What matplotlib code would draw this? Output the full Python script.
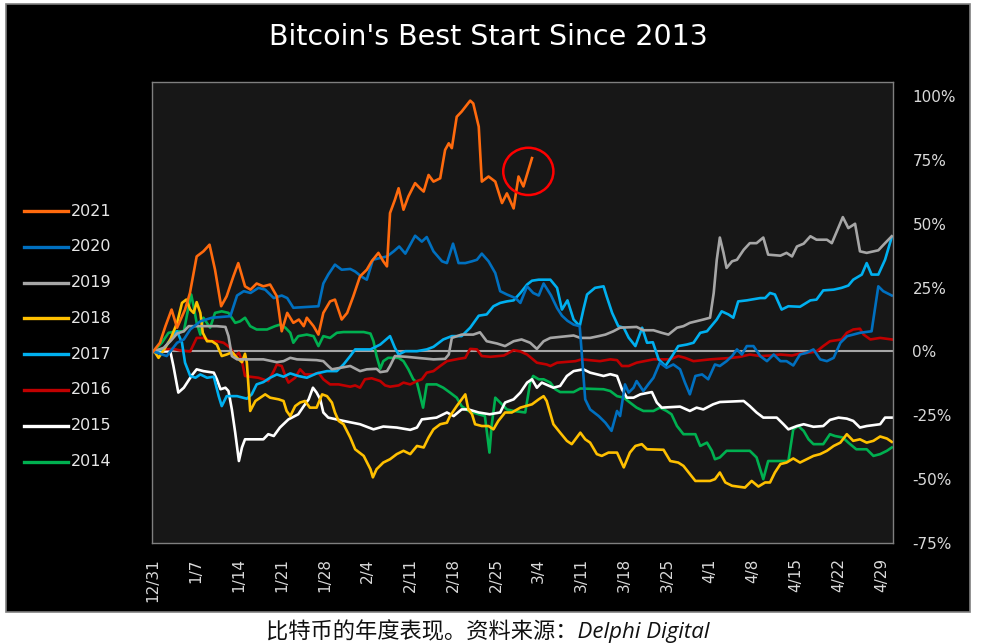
import matplotlib
matplotlib.use("Agg")
import matplotlib.pyplot as plt
from matplotlib.lines import Line2D
from matplotlib.patches import Rectangle, Ellipse

# days since 12/31 and % change from start
days_2021 = [0, 1.1, 2.0, 3.0, 3.9, 5.2, 6.0, 7.1, 8.2, 9.2, 10.1, 11.1, 12.0, 13.1, 13.9, 15.0, 15.9, 16.9, 18.0, 19.1,
             20.2, 21.0, 21.9, 22.9, 23.8, 24.6, 25.1, 26.2, 27.0, 27.8, 28.9, 29.7, 30.8, 31.7, 32.7, 33.8, 34.9, 35.7,
             36.8, 37.6, 38.2, 38.7, 39.5, 40.1, 40.9, 41.7, 42.8, 43.6, 44.2, 45.0, 45.8, 46.9, 47.7, 48.3, 48.8, 49.6,
             50.4, 51.8, 52.3, 53.2, 53.7, 54.8, 55.9, 57.0, 57.8, 58.9, 59.7, 60.5, 61.9]
pct_2021 = [0, 3.4, 9.9, 16.4, 9.3, 16.4, 22.9, 37.2, 39.2, 41.8, 32.0, 17.7, 21.6, 29.4, 34.6, 25.5, 24.2, 26.6, 25.5, 26.2,
            21.6, 7.9, 15.1, 11.2, 12.5, 9.9, 13.2, 9.9, 6.6, 15.1, 19.6, 20.3, 12.5, 15.1, 21.6, 29.4, 32.0, 35.3,
            38.6, 35.3, 33.3, 54.2, 59.4, 63.9, 55.5, 60.7, 65.9, 63.9, 62.6, 69.1, 66.5, 67.8, 78.9, 81.5, 79.6, 91.9,
            93.9, 98.2, 97.1, 88.0, 66.5, 68.5, 66.5, 58.1, 61.9, 56.0, 68.5, 64.6, 75.7]

days_2020 = [0, 2.2, 3.9, 5.0, 6.05, 7.7, 9.6, 12.6, 13.7, 14.8, 15.9, 17.2, 18.3, 19.7, 21.0, 21.9, 22.9, 27.0, 27.8,
             28.6, 29.7, 30.8, 32.2, 33.0, 34.1, 34.9, 35.9, 37.1, 38.2, 39.3, 40.2, 41.2, 42.8, 43.9, 44.7, 45.8, 47.2,
             48.0, 49.0, 49.9, 51.0, 52.1, 52.9, 53.7, 54.8, 55.9, 56.7, 57.8, 59.2, 60.0, 61.1, 62.1, 63.0, 63.8, 65.0,
             66.0, 66.8, 67.7, 68.7, 69.7, 70.6, 71.4, 72.8, 73.9, 74.9, 75.8, 76.3, 77.1, 77.7, 78.5, 79.0, 80.1, 80.9,
             81.75, 82.8, 83.9, 85.0, 86.1, 86.9, 87.7, 88.6, 89.7, 90.7, 91.8, 92.6, 93.7, 94.6, 95.4, 96.2, 97.0,
             98.1, 99.2, 100.3, 101.4, 102.5, 103.5, 104.6, 105.7, 106.8, 107.9, 109.0, 110.1, 111.2, 112.3, 113.4,
             114.4, 115.5, 117.4, 118.5, 119.3, 120.7]
pct_2020 = [0, -1.8, 3.4, 4.7, 8.6, 11.8, 13.2, 13.8, 21.9, 23.6, 22.9, 24.9, 24.2, 20.9, 21.9, 20.9, 17.1, 17.7, 26.6,
            30.1, 34.0, 32.0, 32.3, 31.3, 29.2, 28.1, 35.9, 36.6, 37.2, 39.2, 41.1, 38.3, 45.3, 43.0, 44.8, 39.2, 35.3,
            34.6, 42.2, 34.6, 34.6, 35.3, 35.9, 38.3, 35.3, 30.7, 23.6, 22.3, 20.9, 19.0, 25.5, 22.9, 21.9, 26.6, 22.0,
            17.0, 14.0, 12.0, 10.5, 9.9, -18.75, -22.7, -25.3, -27.9, -31.1, -23.3, -25.3, -12.9, -16.1, -14.2, -11.6,
            -15.5, -12.9, -10.3, -4.4, -6.4, -5.1, -7.0, -12.2, -16.8, -9.6, -9.0, -10.9, -5.1, -5.7, -3.8, -1.8, 0.8,
            -1.2, 2.1, 2.1, -1.8, -3.8, -1.2, -3.8, -3.8, -5.5, -1.2, -0.5, 0.8, -3.1, -3.8, -2.5, 3.4, 6.0, 6.6, 7.3,
            7.9, 25.5, 23.6, 21.9]

days_2019 = [0, 1.7, 2.8, 3.9, 5.0, 5.8, 10.4, 11.8, 12.3, 12.85, 13.7, 18.0, 20.2, 21.3, 22.4, 23.5, 26.7, 27.8, 28.6,
             29.2, 30.6, 32.2, 33.8, 34.9, 36.5, 37.1, 38.2, 38.7, 39.5, 41.4, 43.1, 45.8, 47.7, 48.3, 48.8, 50.4, 52.3,
             53.4, 54.5, 56.2, 57.5, 58.9, 60.2, 61.6, 62.7, 63.8, 64.9, 66.5, 68.7, 69.8, 71.4, 72.8, 73.9, 75.2, 76.3,
             79.0, 80.1, 81.75, 83.1, 84.2, 85.6, 86.65, 87.7, 89.9, 91.0, 91.6, 92.1, 92.6, 93.2, 93.7, 94.6, 95.4,
             96.5, 97.5, 98.6, 99.7, 100.5, 102.5, 103.5, 104.4, 105.2, 106.3, 107.4, 108.4, 110.1, 110.9, 111.7, 112.7,
             113.6, 114.7, 115.5, 116.6, 118.5, 119.6, 120.7]
pct_2019 = [0, 1.4, 4.0, 7.0, 7.9, 9.9, 9.9, 9.6, 6.0, -1.8, -3.1, -3.1, -4.2, -3.8, -2.5, -3.1, -3.4, -3.8, -5.7,
            -7.0, -6.4, -5.7, -7.7, -7.0, -6.8, -8.1, -7.7, -5.7, -1.8, -2.1, -2.5, -3.1, -2.9, -1.2, 5.3, 6.6, 6.6,
            7.5, 4.0, 3.1, 2.1, 4.0, 4.7, 3.4, 1.0, 4.0, 5.3, 5.7, 6.25, 5.3, 5.3, 6.0, 6.6, 7.9, 9.3,
            9.6, 8.3, 8.3, 7.3, 6.6, 9.3, 9.9, 11.2, 12.5, 13.2, 22.9, 35.9, 44.6, 38.6, 32.7, 35.3, 35.9,
            39.8, 42.4, 42.4, 44.6, 37.9, 37.5, 38.6, 37.2, 41.1, 42.2, 45.1, 43.75, 43.75, 42.4, 46.9, 52.6,
            48.3, 50.0, 39.2, 38.6, 39.6, 42.4, 45.1]

days_2018 = [0, 0.33, 0.87, 1.7, 2.8, 3.9, 4.7, 5.4, 6.05, 6.6, 7.1, 7.7, 8.1, 8.8, 9.6, 10.4, 11.2, 12.0, 12.9, 13.7,
             14.5, 15.0, 15.3, 15.6, 15.85, 16.7, 17.5, 18.3, 19.1, 20.5, 21.3, 21.8, 22.4, 23.2, 24.0, 24.8, 25.6,
             26.7, 27.6, 28.4, 29.2, 29.7, 30.3, 31.1, 32.2, 33.0, 34.4, 35.5, 35.9, 36.5, 37.6, 38.7, 39.8, 40.9,
             42.0, 43.1, 44.2, 45.0, 45.8, 46.9, 48.0, 48.5, 49.6, 50.4, 51.0, 51.5, 52.1, 52.6, 53.7, 54.8, 55.6,
             56.4, 57.5, 58.6, 60.0, 61.9, 63.0, 63.8, 64.3, 65.4, 66.5, 67.6, 68.4, 69.2, 69.8, 70.6, 71.4, 72.5,
             73.3, 74.4, 75.8, 76.9, 77.9, 78.8, 79.85, 80.7, 83.4, 84.5, 85.8, 86.65, 87.5, 88.6, 91.0, 91.8, 92.6,
             93.5, 94.6, 96.7, 97.8, 98.9, 100.0, 100.8, 101.6, 102.5, 103.5, 104.6, 105.7, 106.8, 107.9, 109.0,
             110.1, 111.2, 112.3, 113.35, 114.4, 115.5, 116.6, 117.7, 118.8, 119.9, 120.7]
pct_2018 = [0, -0.5, -2.5, 0.5, 4.7, 11.2, 19.0, 20.3, 16.4, 15.1, 19.3, 15.1, 7.3, 4.0, 4.0, 2.7, -1.8, -1.2, -0.3, -2.5,
            -4.2, -0.9, -4.4, -14.8, -23.3, -19.4, -18.1, -16.8, -18.1, -18.75, -19.4, -23.3, -25.3, -21.4, -20.0, -19.4,
            -22.0, -22.0, -16.8, -17.5, -20.0, -23.9, -27.2, -28.5, -33.7, -38.3, -40.9, -46.1, -49.3, -46.1, -43.5,
            -42.2, -40.2, -38.9, -40.2, -37.0, -37.6, -33.7, -30.5, -28.5, -27.9, -25.3, -21.4, -18.75, -16.8, -22.7,
            -24.6, -28.5, -29.2, -29.2, -30.5, -27.2, -23.9, -23.9, -22.0, -20.7, -18.75, -17.5, -19.4, -28.5, -31.8,
            -35.0, -36.3, -33.7, -31.8, -34.4, -35.7, -40.2, -40.9, -39.6, -39.6, -45.4, -39.6, -37.0, -36.3, -38.3,
            -38.5, -42.9, -43.5, -44.8, -47.4, -50.7, -50.7, -50.0, -47.4, -51.3, -52.6, -53.3, -50.7, -52.9, -51.3,
            -51.3, -47.4, -44.1, -43.5, -41.9, -43.5, -42.2, -40.9, -40.2, -38.9, -37.0, -35.7, -32.4, -35.0, -34.4,
            -35.7, -35.0, -33.3, -34.1, -35.4]

days_2017 = [0, 1.7, 2.8, 3.9, 4.7, 5.2, 6.05, 6.9, 7.7, 8.8, 9.9, 10.7, 11.2, 12.0, 13.7, 15.3, 16.1, 16.9, 18.0, 19.1,
             20.2, 21.3, 22.4, 23.7, 25.1, 26.7, 28.4, 30.0, 31.1, 32.2, 33.0, 35.5, 37.1, 38.7, 39.5, 40.1, 41.2, 43.1,
             44.7, 45.8, 47.4, 48.8, 50.4, 51.8, 53.2, 54.5, 55.6, 56.7, 57.8, 58.9, 60.0, 61.1, 61.9, 63.0, 64.9, 66.0,
             66.8, 67.7, 68.7, 69.7, 70.3, 70.9, 72.2, 73.6, 74.1, 75.0, 76.0, 76.9, 77.7, 78.8, 79.9, 80.7, 81.65,
             82.6, 83.7, 84.8, 85.8, 87.2, 88.3, 89.4, 90.5, 92.1, 92.9, 94.0, 94.8, 95.6, 97.0, 99.2, 100.0, 100.8,
             101.6, 102.7, 103.8, 105.7, 107.4, 108.4, 109.5, 111.2, 112.5, 113.6, 114.4, 115.8, 116.6, 117.4, 118.5,
             119.6, 120.7]
pct_2017 = [0, 0.8, 4.7, 7.9, 3.4, -4.4, -9.6, -10.3, -9.0, -10.3, -9.9, -17.5, -21.4, -17.5, -17.5, -18.5, -16.8, -12.9,
            -12.0, -10.3, -9.0, -9.9, -8.6, -9.6, -10.3, -8.6, -7.7, -7.7, -5.1, -1.8, 0.8, 0.8, 2.7, 6.0, 1.4, -1.2,
            0.1, 0.1, 0.8, 1.8, 4.7, 6.0, 6.0, 9.3, 14.0, 14.5, 17.7, 19.0, 19.6, 20.0, 22.9, 26.2, 27.7, 28.1, 28.1,
            24.9, 16.4, 20.0, 12.5, 9.9, 16.4, 22.3, 24.9, 25.5, 21.6, 15.1, 9.9, 9.3, 5.4, 2.1, 9.3, 3.4, 3.6, -3.1,
            -5.7, -1.8, 2.1, 2.7, 3.4, 7.3, 7.9, 12.5, 15.7, 14.5, 13.2, 19.6, 20.0, 20.9, 20.9, 22.9, 22.3, 16.4,
            17.7, 17.5, 20.0, 20.3, 23.9, 24.2, 24.9, 25.8, 28.1, 30.1, 34.6, 30.1, 30.1, 35.9, 44.8]

days_2016 = [0, 1.1, 3.3, 4.4, 6.05, 7.1, 8.2, 9.3, 10.4, 11.5, 12.6, 13.4, 14.0, 14.5, 15.0, 15.85, 17.2, 18.8, 19.7,
             20.2, 21.0, 21.6, 22.1, 23.2, 24.0, 24.8, 26.2, 27.0, 27.8, 28.9, 30.3, 32.2, 33.0, 33.8, 34.6, 35.7, 37.1,
             37.9, 38.7, 40.1, 40.9, 42.0, 43.1, 43.9, 44.7, 45.8, 46.9, 48.0, 49.9, 51.0, 51.8, 52.9, 53.7, 55.1, 57.3,
             58.9, 60.0, 61.1, 62.7, 64.3, 64.9, 66.0, 69.0, 70.0, 73.0, 74.7, 75.8, 76.6, 77.7, 79.0, 81.75, 84.5,
             85.8, 86.9, 88.3, 91.0, 94.6, 95.9, 97.5, 99.2, 100.8, 102.5, 104.4, 105.7, 107.1, 108.4, 109.5, 110.6,
             112.5, 113.35, 114.4, 115.5, 116.1, 117.2, 118.8, 120.7]
pct_2016 = [0, 0.8, 1.0, 0.4, 0, 5.3, 5.3, 4.0, 4.0, 3.4, 1.4, -1.8, -0.5, -3.8, -9.6, -9.9, -10.3, -11.6, -7.7,
            -5.1, -5.7, -9.6, -12.2, -10.3, -7.0, -9.0, -9.0, -8.3, -10.9, -12.9, -12.9, -13.8, -13.3, -14.2, -10.9,
            -10.5, -11.6, -13.3, -13.8, -13.3, -12.2, -12.9, -11.6, -10.9, -8.3, -7.7, -5.7, -3.8, -2.9, -2.5, 1.0,
            0.8, -1.8, -2.1, -1.6, 0.5, 0, -1.2, -4.4, -5.1, -5.7, -4.4, -3.8, -3.1, -3.8, -3.1, -3.4, -5.7, -5.7,
            -4.4, -3.1, -3.1, -1.8, -2.5, -3.8, -3.1, -2.5, -2.1, -1.2, -1.8, -1.6, -1.2, -1.6, -0.8, -0.5, 0, 2.1,
            4.0, 4.7, 7.3, 8.6, 8.9, 6.6, 4.7, 5.3, 4.7]

days_2015 = [0, 2.8, 3.3, 3.9, 4.1, 5.0, 6.3, 7.1, 8.2, 9.9, 10.4, 11.0, 11.8, 12.3, 12.85, 13.4, 14.0, 14.5, 15.0, 18.0,
             18.8, 19.7, 20.7, 22.1, 23.7, 24.6, 25.4, 26.1, 26.7, 27.3, 27.8, 28.6, 31.1, 33.8, 36.0, 37.6, 39.8, 42.0,
             43.1, 43.9, 46.3, 48.0, 49.1, 50.4, 51.5, 53.2, 55.0, 56.7, 57.5, 58.9, 60.0, 61.1, 61.9, 62.7, 63.5, 65.4,
             66.5, 67.6, 68.7, 70.3, 71.4, 73.6, 74.7, 75.8, 76.6, 77.4, 78.5, 79.6, 81.5, 82.3, 83.1, 86.1, 87.7, 88.8,
             89.9, 91.5, 92.6, 96.5, 97.5, 98.6, 99.7, 101.9, 103.0, 103.8, 105.2, 106.3, 107.9, 109.5, 110.6, 112.0,
             113.35, 114.4, 115.5, 116.6, 118.8, 119.6, 120.7]
pct_2015 = [0, 0, -5.7, -13.5, -16.1, -14.2, -9.4, -7.0, -7.7, -8.3, -10.9, -14.8, -14.2, -15.5, -22.7, -31.8, -42.9,
            -37.6, -34.4, -34.4, -32.4, -33.1, -29.8, -26.6, -24.6, -21.4, -18.75, -14.2, -16.1, -18.75, -23.9, -25.9,
            -27.2, -28.5, -30.5, -29.4, -29.8, -30.7, -29.8, -26.6, -25.9, -23.9, -25.3, -22.7, -22.7, -23.9, -24.6,
            -23.9, -20.0, -18.75, -16.1, -12.2, -10.9, -14.2, -12.2, -14.2, -13.5, -9.6, -7.7, -7.0, -8.3, -9.6, -8.9,
            -9.6, -14.8, -18.1, -18.1, -16.8, -15.9, -20.0, -22.0, -21.6, -23.3, -22.0, -22.7, -20.7, -19.8, -19.4,
            -21.4, -23.9, -25.9, -25.9, -28.5, -30.5, -29.2, -28.5, -29.5, -29.2, -26.8, -25.9, -26.3, -27.2, -29.8,
            -29.2, -28.5, -25.9, -25.9]

days_2014 = [0, 1.4, 2.5, 3.9, 5.0, 5.8, 6.2, 6.6, 7.1, 7.7, 8.2, 9.3, 10.1, 11.2, 12.3, 13.4, 14.2, 15.0, 15.85, 16.9,
             18.6, 19.9, 20.7, 21.6, 22.4, 22.9, 23.7, 25.1, 26.2, 27.0, 27.8, 28.9, 30.0, 31.1, 34.4, 35.5, 36.0, 36.5,
             37.1, 37.6, 38.4, 40.1, 40.9, 41.7, 42.5, 43.1, 43.5, 44.1, 44.7, 46.3, 47.4, 48.5, 49.6, 50.4, 51.5, 53.2,
             54.2, 54.95, 55.3, 55.9, 56.7, 57.8, 58.9, 60.8, 61.6, 62.1, 63.0, 63.8, 64.9, 65.7, 66.5, 68.7, 69.8, 73.6,
             74.7, 75.8, 76.9, 77.9, 79.0, 80.1, 81.75, 82.8, 83.9, 84.7, 85.6, 86.65, 88.6, 89.4, 90.5, 91.3, 91.8,
             92.6, 93.7, 97.5, 98.6, 99.7, 100.5, 103.8, 104.6, 105.4, 106.3, 107.1, 107.9, 109.5, 110.6, 111.4, 112.7,
             113.6, 114.9, 116.6, 117.7, 118.8, 119.9, 120.7]
pct_2014 = [0, 3.4, 7.3, 7.9, 7.9, 17.7, 22.3, 17.7, 11.2, 6.6, 13.2, 9.3, 15.1, 15.7, 15.1, 11.2, 11.8, 13.2, 9.9, 8.6,
            8.6, 9.9, 10.5, 9.3, 7.3, 3.4, 6.0, 6.6, 6.0, 2.1, 6.0, 5.3, 7.3, 7.6, 7.6, 7.0, 4.0, -1.8,
            -6.8, -3.8, -2.5, -2.5, -3.8, -7.0, -10.9, -12.2, -16.1, -22.0, -12.9, -12.9, -14.2, -16.1, -18.1, -21.4,
            -23.3, -24.6, -25.3, -39.6, -29.2, -18.1, -20.0, -22.7, -23.3, -23.9, -12.2, -9.6, -10.9, -10.9, -12.2,
            -14.8, -15.9, -15.9, -14.5, -14.8, -15.5, -17.5, -18.1, -20.0, -22.0, -23.3, -23.3, -22.0, -23.3, -24.6,
            -29.2, -32.4, -32.4, -37.0, -35.7, -38.9, -42.2, -41.5, -38.9, -38.9, -41.5, -50.0, -42.9, -42.9, -30.5,
            -29.2, -31.1, -34.4, -36.3, -36.3, -32.4, -33.1, -33.7, -35.7, -38.3, -38.3, -40.9, -40.2, -38.9, -37.6]

years = ["2021", "2020", "2019", "2018", "2017", "2016", "2015", "2014"]
colors = ["#FF6A0D", "#0070C0", "#A6A6A6", "#FFC000", "#00B0F0", "#C00000", "#FFFFFF", "#00B050"]
series = [(days_2021, pct_2021), (days_2020, pct_2020), (days_2019, pct_2019), (days_2018, pct_2018),
          (days_2017, pct_2017), (days_2016, pct_2016), (days_2015, pct_2015), (days_2014, pct_2014)]

tick_days = [0, 7, 14, 21, 28, 35, 42, 49, 56, 63, 70, 77, 84, 91, 98, 105, 112, 119]
tick_labels = ["12/31", "1/7", "1/14", "1/21", "1/28", "2/4", "2/11", "2/18", "2/25", "3/4",
               "3/11", "3/18", "3/25", "4/1", "4/8", "4/15", "4/22", "4/29"]
y_ticks = [100, 75, 50, 25, 0, -25, -50, -75]

plt.rcParams["font.family"] = ["DejaVu Sans"]

fig = plt.figure(figsize=(10, 6.43), dpi=100)
fig.patch.set_facecolor("white")
# black panel behind the chart
fig.add_artist(Rectangle((0.006, 31 / 643), 0.964, 608 / 643, transform=fig.transFigure,
                         facecolor="black", edgecolor="#7f7f7f", linewidth=1.2, zorder=0))

ax = fig.add_axes([0.152, 100 / 643, 0.741, 461 / 643])
ax.set_facecolor("#171717")

ax.axhline(0, color="#A6A6A6", linewidth=1.5, zorder=1)
for (d, p), c in reversed(list(zip(series, colors))):
    ax.plot(d, p, color=c, linewidth=1.9, zorder=2)

# red circle around the latest 2021 move
ax.add_patch(Ellipse((61.3, 70.5), 8.2, 18.5, fill=False, edgecolor="#FF0000", linewidth=1.8, zorder=3))

ax.set_xlim(-0.2, 120.9)
ax.set_ylim(-75, 105.5)
ax.set_xticks(tick_days)
ax.set_xticklabels(tick_labels, rotation=90, color="#d9d9d9", fontsize=11)
ax.yaxis.tick_right()
ax.set_yticks(y_ticks)
ax.set_yticklabels([f"{v}%" for v in y_ticks], color="#d9d9d9", fontsize=11)
ax.tick_params(axis="x", length=0, pad=11)
ax.tick_params(axis="y", length=0, pad=14)
for s in ax.spines.values():
    s.set_color("#7f7f7f")
    s.set_linewidth(1)

fig.text(0.488, 1 - 37 / 643, "Bitcoin's Best Start Since 2013", color="white", fontsize=20.5,
         ha="center", va="center")

# legend drawn by hand on the left
for i, (yr, c) in enumerate(zip(years, colors)):
    yy = 1 - (211 + i * 35.8) / 643
    fig.add_artist(Line2D([0.024, 0.068], [yy, yy], color=c, linewidth=2.4, transform=fig.transFigure))
    fig.text(0.071, yy, yr, color="#e6e6e6", fontsize=11.5, ha="left", va="center")

fig.text(0.488, 12 / 643, "比特币的年度表现。资料来源：Delphi Digital", fontsize=16, style="italic",
         family=["Open Sans", "Noto Sans CJK SC"], color="#111111", ha="center", va="center")

fig.savefig("out.png", dpi=100, facecolor=fig.get_facecolor())
